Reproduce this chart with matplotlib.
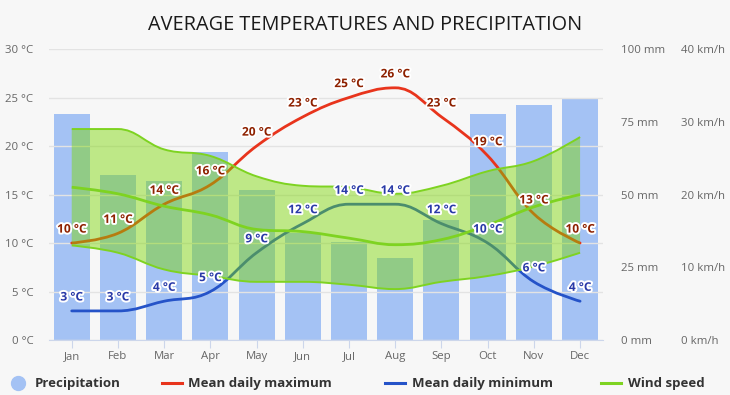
import matplotlib
matplotlib.use("Agg")
import matplotlib.pyplot as plt
from matplotlib.path import Path
from matplotlib.patches import PathPatch
from matplotlib.lines import Line2D
import matplotlib.patheffects as pe

# data
months = ["Jan", "Feb", "Mar", "Apr", "May", "Jun", "Jul", "Aug", "Sep", "Oct", "Nov", "Dec"]
precip_mm = [77.6, 56.6, 54.6, 64.5, 51.4, 36.9, 33.6, 28.3, 41.4, 77.6, 80.9, 83.3]
temp_max = [10, 11, 14, 16, 20, 23, 25, 26, 23, 19, 13, 10]
temp_min = [3, 3, 4, 5, 9, 12, 14, 14, 12, 10, 6, 4]
wind_kmh = [21.0, 20.1, 18.4, 17.2, 15.2, 14.9, 14.0, 13.1, 13.8, 15.8, 18.3, 20.0]
wind_high = [29.0, 29.0, 26.2, 25.3, 22.5, 21.2, 21.0, 20.1, 21.2, 23.2, 24.6, 27.9]
wind_low = [13.0, 12.0, 9.7, 8.8, 8.0, 8.0, 7.6, 7.0, 8.0, 8.8, 10.1, 12.0]

BG = "#f7f7f7"
BAR = "#a4c2f4"
RED = "#e8341c"
BLUE = "#2553c8"
GREEN = "#7ed321"
FONT = "Open Sans"


def spline_path(xs, ys, smoothing=1.5):
    # highcharts-like spline: bezier handles, flattened at local extremes
    denom = smoothing + 1
    n = len(xs)
    lc = [None] * n
    rc = [None] * n
    for i in range(1, n - 1):
        px, py = xs[i], ys[i]
        lx, ly = xs[i - 1], ys[i - 1]
        nx, ny = xs[i + 1], ys[i + 1]
        lcx = (smoothing * px + lx) / denom
        lcy = (smoothing * py + ly) / denom
        rcx = (smoothing * px + nx) / denom
        rcy = (smoothing * py + ny) / denom
        corr = 0
        if rcx != lcx:
            corr = (rcy - lcy) * (rcx - px) / (rcx - lcx) + py - rcy
        lcy += corr
        rcy += corr
        if lcy > ly and lcy > py:
            lcy = max(ly, py)
            rcy = 2 * py - lcy
        elif lcy < ly and lcy < py:
            lcy = min(ly, py)
            rcy = 2 * py - lcy
        if rcy > ny and rcy > py:
            rcy = max(ny, py)
            lcy = 2 * py - rcy
        elif rcy < ny and rcy < py:
            rcy = min(ny, py)
            lcy = 2 * py - rcy
        lc[i] = (lcx, lcy)
        rc[i] = (rcx, rcy)
    verts = [(xs[0], ys[0])]
    codes = [Path.MOVETO]
    for i in range(1, n):
        a = rc[i - 1] if rc[i - 1] else (xs[i - 1], ys[i - 1])
        b = lc[i] if lc[i] else (xs[i], ys[i])
        verts += [a, b, (xs[i], ys[i])]
        codes += [Path.CURVE4] * 3
    return verts, codes


x = list(range(len(months)))

fig = plt.figure(figsize=(7.3, 3.95), dpi=100, facecolor=BG)
ax = fig.add_axes([0.0666, 0.1392, 0.7597, 0.7367])
ax.patch.set_visible(False)
ax_mm = ax.twinx()
ax_kmh = ax.twinx()
for a in (ax_mm, ax_kmh):
    a.patch.set_visible(False)
    for s in a.spines.values():
        s.set_visible(False)

ax.set_xlim(-0.5, 11.5)
ax.set_ylim(0, 30)
ax_mm.set_ylim(0, 100)
ax_kmh.set_ylim(0, 40)

# precipitation bars (mm scale)
ax.bar(x, precip_mm, width=0.78, color=BAR, zorder=1, transform=ax_mm.transData)
ax.set_ylim(0, 30)

# temperature lines
for vals, col in ((temp_max, RED), (temp_min, BLUE)):
    v, c = spline_path(x, vals)
    ax.add_patch(PathPatch(Path(v, c), fill=False, edgecolor=col, lw=2, zorder=2,
                           capstyle="round"))

# wind range band + wind line (km/h scale)
uv, uc = spline_path(x, wind_high)
lv, lc_ = spline_path(x[::-1], wind_low[::-1])
band_v = uv + [lv[0]] + lv[1:] + [uv[0]]
band_c = uc + [Path.LINETO] + lc_[1:] + [Path.CLOSEPOLY]
ax.add_patch(PathPatch(Path(band_v, band_c), facecolor="#7ad600", alpha=0.45,
                       edgecolor="none", zorder=3, transform=ax_kmh.transData))
ax.add_patch(PathPatch(Path(uv, uc), fill=False, edgecolor=GREEN, lw=1.4, zorder=3.2,
                       transform=ax_kmh.transData))
ax.add_patch(PathPatch(Path(lv, lc_), fill=False, edgecolor=GREEN, lw=1.4, zorder=3.2,
                       transform=ax_kmh.transData))
wv, wc = spline_path(x, wind_kmh)
ax.add_patch(PathPatch(Path(wv, wc), fill=False, edgecolor=GREEN, lw=2, zorder=3.5,
                       transform=ax_kmh.transData))

# data labels
outline = [pe.withStroke(linewidth=2.8, foreground="white")]
for vals, col in ((temp_max, "#8e2100"), (temp_min, "#2a3aa8")):
    for xi, v in zip(x, vals):
        ax.annotate(f"{v} °C", (xi, v), xytext=(0, 10), textcoords="offset points",
                    ha="center", va="center", fontsize=8.6, fontweight="bold",
                    color=col, family=FONT, path_effects=outline, zorder=5)

# axes styling
ax.set_yticks(range(0, 31, 5))
ax.set_yticklabels([f"{v} °C" for v in range(0, 31, 5)])
ax.grid(axis="y", color="#e3e3e3", lw=1, zorder=0)
ax.set_xticks(x)
ax.set_xticklabels(months)
for s in ("top", "right", "left"):
    ax.spines[s].set_visible(False)
ax.spines["bottom"].set_color("#ccd6eb")
ax.tick_params(axis="y", length=0, pad=11, labelsize=8.2, labelcolor="#666666")
ax.tick_params(axis="x", length=6, color="#ccd6eb", pad=2, labelsize=8.2,
               labelcolor="#666666")

ax_mm.set_yticks(range(0, 101, 25))
ax_mm.set_yticklabels([f"{v} mm" for v in range(0, 101, 25)])
ax_mm.tick_params(axis="y", length=0, pad=13, labelsize=8.2, labelcolor="#666666")
ax_kmh.set_yticks(range(0, 41, 10))
ax_kmh.set_yticklabels([f"{v} km/h" for v in range(0, 41, 10)])
ax_kmh.tick_params(axis="y", length=0, pad=56, labelsize=8.2, labelcolor="#666666")
for a in (ax, ax_mm, ax_kmh):
    for lab in a.get_yticklabels() + a.get_xticklabels():
        lab.set_family(FONT)

fig.text(0.5, 0.937, "AVERAGE TEMPERATURES AND PRECIPITATION", ha="center", va="center",
         fontsize=14.3, color="#1a1a1a", family=FONT)

# legend drawn by hand
ly = (395 - 383) / 395
fig.add_artist(Line2D([18 / 730], [ly], marker="o", markersize=10, color=BAR, lw=0,
                      transform=fig.transFigure))
leg = [("Precipitation", 35, None, None),
       ("Mean daily maximum", 188, RED, 162),
       ("Mean daily minimum", 412, BLUE, 385),
       ("Wind speed", 628, GREEN, 601)]
for name, tx, col, lx0 in leg:
    if col:
        fig.add_artist(Line2D([lx0 / 730, (lx0 + 20) / 730], [ly, ly], color=col, lw=2.2,
                              transform=fig.transFigure))
    fig.text(tx / 730, ly, name, ha="left", va="center", fontsize=9.5, fontweight="bold",
             color="#333333", family=FONT)

fig.savefig("out.png", dpi=100, facecolor=BG)
